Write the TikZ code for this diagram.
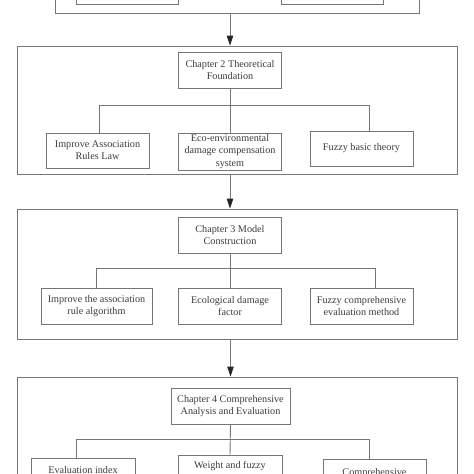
\documentclass[tikz,border=0pt]{standalone}
\usepackage{fontspec}
\setmainfont{Liberation Serif}
\usetikzlibrary{arrows.meta,calc}
\definecolor{linegray}{HTML}{767676}
\definecolor{textgray}{HTML}{3C3C3C}
\tikzset{
  outerbox/.style={draw=linegray, line width=0.9pt, rectangle, inner sep=0pt},
  itembox/.style={draw=linegray, line width=0.9pt, rectangle, inner sep=0pt, align=center,
    text=textgray, font=\fontsize{10.2}{12.3}\selectfont},
  link/.style={draw=linegray, line width=0.9pt},
  flow/.style={draw=linegray, line width=0.9pt, -{Triangle[length=10pt,width=6.5pt,fill=black!85,color=black!85]}}
}
\begin{document}
\begin{tikzpicture}[x=1pt,y=-1pt]
\useasboundingbox (0,0) rectangle (474,474);
\clip (0,0) rectangle (474,474);
% outer containers
\node[outerbox, minimum width=364pt, minimum height=86pt] (o1) at (237,-30) {};
\node[outerbox, minimum width=440pt, minimum height=128pt] (o2) at (237,110) {};
\node[outerbox, minimum width=440pt, minimum height=130pt] (o3) at (237,274) {};
\node[outerbox, minimum width=440pt, minimum height=146pt] (o4) at (237,450) {};
% top section (cut off)
\node[itembox, minimum width=102pt, minimum height=36pt] (t1) at (127,-14) {};
\node[itembox, minimum width=102pt, minimum height=36pt] (t2) at (332,-14) {};
% chapter 2
\node[itembox, minimum width=103pt, minimum height=36pt] (c2) at (230,70) {Chapter 2 Theoretical\\Foundation};
\node[itembox, minimum width=103pt, minimum height=35pt] (a2) at (97.5,150.5) {Improve Association\\Rules Law};
\node[itembox, minimum width=103pt, minimum height=37pt] (b2) at (230,151.5) {Eco-environmental\\damage compensation\\system};
\node[itembox, minimum width=103pt, minimum height=35pt] (d2) at (361.5,148.5) {Fuzzy basic theory};
\coordinate (l2) at (99,105);
\coordinate (r2) at (369,105);
% chapter 3
\node[itembox, minimum width=103pt, minimum height=36pt] (c3) at (230,235) {Chapter 3 Model\\Construction};
\node[itembox, minimum width=111pt, minimum height=36pt] (a3) at (96.5,306) {Improve the association\\rule algorithm};
\node[itembox, minimum width=103pt, minimum height=36pt] (b3) at (230,306) {Ecological damage\\factor};
\node[itembox, minimum width=103pt, minimum height=36pt] (d3) at (361.5,306) {Fuzzy comprehensive\\evaluation method};
\coordinate (l3) at (96,268);
\coordinate (r3) at (375,268);
% chapter 4
\node[itembox, minimum width=119pt, minimum height=36pt] (c4) at (230.5,406) {Chapter 4 Comprehensive\\Analysis and Evaluation};
\node[itembox, minimum width=104pt, minimum height=24pt] (a4) at (83,470) {Evaluation index};
\node[itembox, minimum width=104pt, minimum height=22pt] (b4) at (230,466) {Weight and fuzzy};
\node[itembox, minimum width=103pt, minimum height=28pt] (d4) at (374.5,473) {Comprehensive};
\coordinate (l4) at (76,439);
\coordinate (r4) at (369,439);
% connectors inside sections
\foreach \s in {2,3,4}{
  \draw[link] (c\s.south) -- (b\s.north);
  \draw[link] (l\s) -- (r\s);
  \draw[link] (l\s) -- (l\s |- a\s.north);
  \draw[link] (r\s) -- (r\s |- d\s.north);
}
% flow arrows between sections
\draw[flow] (o1.south -| c2.south) -- (o2.north -| c2.south);
\draw[flow] (o2.south -| c3.south) -- (o3.north -| c3.south);
\draw[flow] (o3.south -| c4.south) -- (o4.north -| c4.south);
\end{tikzpicture}
\end{document}
